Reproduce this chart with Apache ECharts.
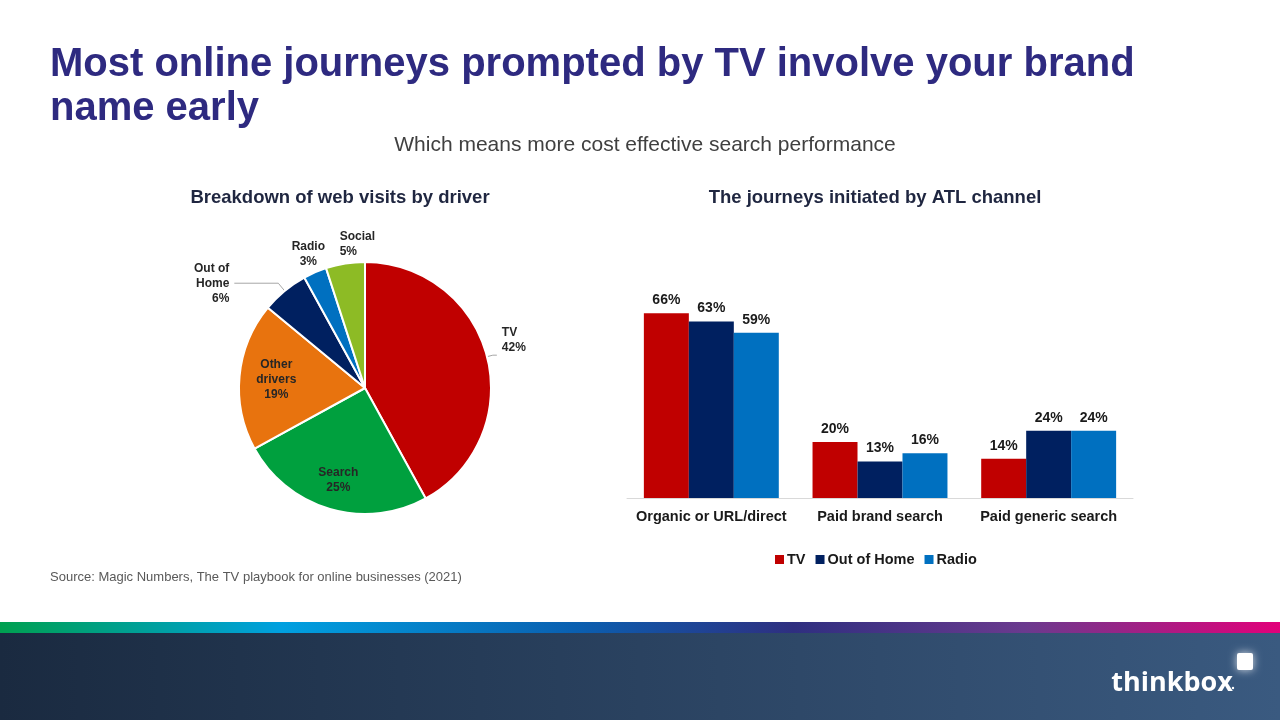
<!DOCTYPE html>
<html>
<head>
<meta charset="utf-8">
<script src="https://cdn.jsdelivr.net/npm/echarts@6/dist/echarts.min.js"></script>
<style>
  html, body { margin: 0; padding: 0; background: #fff; }
  #chart { width: 1280px; height: 720px; }
</style>
</head>
<body>
<div id="chart"></div>
<script>
// pie: breakdown of web visits by driver
const pieNames = ['TV', 'Search', 'Other drivers', 'Out of Home', 'Radio', 'Social']
const pieLabels = ['TV', 'Search', 'Other\ndrivers', 'Out of\nHome', 'Radio', 'Social']
const pieValues = [42, 25, 19, 6, 3, 5]
const pieColors = ['#c00000', '#00a03e', '#e8730e', '#002060', '#0070c0', '#8dbb25']

// bars: journeys initiated by ATL channel
const barCategories = ['Organic or URL/direct', 'Paid brand search', 'Paid generic search']
const seriesNames = ['TV', 'Out of Home', 'Radio']
const tvValues = [66, 20, 14]
const oohValues = [63, 13, 24]
const radioValues = [59, 16, 24]
const barColors = ['#c00000', '#002060', '#0070c0']

const FONT = '"Liberation Sans", Arial, sans-serif'
const PIE_CX = 365
const PIE_CY = 388

const chart = echarts.init(document.getElementById('chart'))

// per-slice label placement
const labelCfg = {
  TV: { label: { position: 'outside' }, labelLine: { show: true, length: 6, length2: 4 } },
  Search: { label: { position: 'inside' } },
  'Other drivers': { label: { position: 'inside' } },
  'Out of Home': { label: { position: 'outside' }, labelLine: { show: true, length: 10, length2: 44 } },
  Radio: { label: { position: 'outside' }, labelLine: { show: false, length: 4, length2: 0 } },
  Social: { label: { position: 'outside' }, labelLine: { show: false, length: 4, length2: 0 } }
}

const pieData = pieNames.map((n, i) => Object.assign({
  name: n,
  value: pieValues[i],
  itemStyle: { color: pieColors[i] }
}, labelCfg[n]))

const barValues = [tvValues, oohValues, radioValues]
const barSeries = seriesNames.map((n, i) => ({
  type: 'bar',
  name: n,
  data: barValues[i],
  barGap: '0%',
  barCategoryGap: '20%',
  itemStyle: { color: barColors[i] },
  label: {
    show: true,
    position: 'top',
    distance: 6,
    formatter: '{c}%',
    fontFamily: FONT,
    fontWeight: 'bold',
    fontSize: 14,
    color: '#1a1a1a'
  }
}))

const text = (x, y, str, size, opts) => ({
  type: 'text',
  x: x,
  y: y,
  style: Object.assign({
    text: str,
    font: (opts && opts.bold ? 'bold ' : '') + size + 'px ' + FONT,
    fill: '#1f2640',
    align: 'center',
    verticalAlign: 'middle'
  }, opts && opts.style)
})

chart.setOption({
  animation: false,
  graphic: [
    // footer bands
    {
      type: 'rect', shape: { x: 0, y: 622, width: 1280, height: 11 },
      style: {
        fill: new echarts.graphic.LinearGradient(0, 0, 1, 0, [
          { offset: 0, color: '#00a050' },
          { offset: 0.22, color: '#00a0e0' },
          { offset: 0.45, color: '#0a5fb0' },
          { offset: 0.62, color: '#2f2f80' },
          { offset: 0.8, color: '#6a3a8e' },
          { offset: 1, color: '#e2007a' }
        ])
      }
    },
    {
      type: 'rect', shape: { x: 0, y: 633, width: 1280, height: 87 },
      style: {
        fill: new echarts.graphic.LinearGradient(0, 0, 1, 0, [
          { offset: 0, color: '#1a2a40' },
          { offset: 1, color: '#3a5a80' }
        ])
      }
    },
    {
      type: 'rect', shape: { x: 1237, y: 653, width: 16, height: 17, r: 2 },
      style: { fill: '#ffffff', shadowBlur: 8, shadowColor: 'rgba(255,255,255,0.8)' }
    },
    {
      type: 'circle', shape: { cx: 1233, cy: 688, r: 1.2 },
      style: { fill: '#ffffff' }
    },
    {
      type: 'text', x: 1172, y: 683,
      style: {
        text: 'thinkbox', font: 'bold 27px "Open Sans", sans-serif',
        fill: '#ffffff', align: 'center', verticalAlign: 'middle'
      }
    },
    // headings
    {
      type: 'text', x: 50, y: 43,
      style: {
        text: 'Most online journeys prompted by TV involve your brand\nname early',
        font: 'bold 40px ' + FONT, fill: '#2e2a80', lineHeight: 44,
        align: 'left', verticalAlign: 'top'
      }
    },
    text(645, 145, 'Which means more cost effective search performance', 21,
      { style: { fill: '#404040' } }),
    text(340, 198, 'Breakdown of web visits by driver', 18.5, { bold: true }),
    text(875, 198, 'The journeys initiated by ATL channel', 18.5, { bold: true }),
    text(50, 577, 'Source: Magic Numbers, The TV playbook for online businesses (2021)', 13,
      { style: { fill: '#595959', align: 'left' } })
  ],
  legend: {
    data: seriesNames,
    left: 770,
    top: 547,
    icon: 'rect',
    itemWidth: 9,
    itemHeight: 9,
    itemGap: 10,
    textStyle: { fontFamily: FONT, fontWeight: 'bold', fontSize: 14.5, color: '#1a1a1a', padding: [0, 0, 0, -2] }
  },
  grid: { left: 627, right: 147, top: 302, bottom: 222 },
  xAxis: {
    type: 'category',
    data: barCategories,
    axisLine: { lineStyle: { color: '#d9d9d9' } },
    axisTick: { show: false },
    axisLabel: {
      interval: 0,
      fontFamily: FONT, fontWeight: 'bold', fontSize: 14.5, color: '#1a1a1a', margin: 11
    }
  },
  yAxis: {
    type: 'value', min: 0, max: 70, show: false,
    splitLine: { show: false }
  },
  series: [
    {
      type: 'pie',
      center: [PIE_CX, PIE_CY],
      radius: 126,
      startAngle: 90,
      clockwise: true,
      avoidLabelOverlap: false,
      itemStyle: { borderColor: '#ffffff', borderWidth: 2 },
      label: {
        formatter: p => pieLabels[p.dataIndex] + '\n' + p.value + '%',
        fontFamily: FONT, fontWeight: 'bold', fontSize: 12, color: '#262626',
        lineHeight: 15
      },
      labelLine: { lineStyle: { color: '#a6a6a6', width: 1 }, smooth: false },
      labelLayout: p => {
        const name = pieNames[p.dataIndex]
        if (labelCfg[name].label.position === 'inside') {
          // push the inside labels out toward the rim
          const k = name === 'Search' ? 0.45 : 0.35
          const lx = p.labelRect.x + p.labelRect.width / 2
          const ly = p.labelRect.y + p.labelRect.height / 2
          return { dx: (lx - PIE_CX) * k, dy: (ly - PIE_CY) * k }
        }
        if (name === 'Radio') return { align: 'center', verticalAlign: 'bottom' }
        if (name === 'Social') return { align: 'left', verticalAlign: 'bottom' }
        if (name === 'TV') return { verticalAlign: 'bottom' }
        return {}
      },
      data: pieData
    }
  ].concat(barSeries)
})
</script>
</body>
</html>
